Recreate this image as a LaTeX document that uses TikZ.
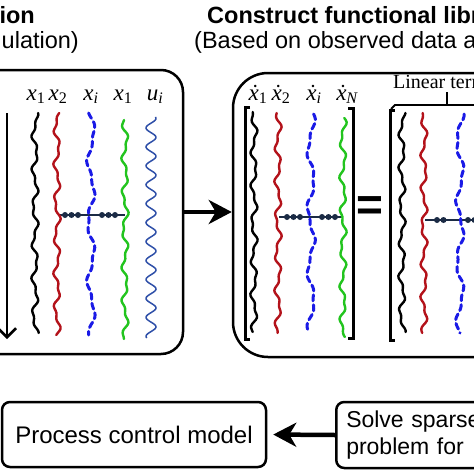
\documentclass[tikz,border=0pt]{standalone}
\usepackage{fontspec}
\setmainfont{Liberation Sans}
\newfontfamily\termfont{Liberation Serif}
\usetikzlibrary{arrows.meta}

\definecolor{wred}{HTML}{B3121A}
\definecolor{wgreen}{HTML}{22C41E}
\definecolor{wblue}{HTML}{1A1AE6}
\definecolor{wnavy}{HTML}{2E4FA8}
\definecolor{dotc}{HTML}{1B2B45}

% irregular signal traces, running downwards
\newcommand{\wiggle}[4]{plot[smooth,samples=110,domain=#2:#3,variable=\t]({#1+2.4*sin(10*\t+#4)+1.3*sin(23*\t+1.7*#4)},\t)}
\newcommand{\dwiggle}[4]{plot[smooth,samples=90,domain=#2:#3,variable=\t]({#1+3.2*sin(6*\t+#4)+1.2*sin(15*\t+#4)},\t)}
% signal name with subscript
\newcommand{\sig}[2]{{\itshape #1}\textsubscript{#2}}

\tikzset{
  panel/.style={draw,line width=2.5pt,inner sep=0pt},
  procbox/.style={draw,line width=2.5pt,rounded corners=8pt,font=\fontsize{24}{26}\selectfont},
  title/.style={inner sep=0pt,font=\fontsize{23.5}{26}\selectfont},
  lbl/.style={inner sep=0pt,anchor=base,font=\termfont\fontsize{23}{24}\selectfont},
  wave/.style={line width=2.4pt,line cap=round},
  dashwave/.style={wave,wblue,line width=3pt,dash pattern=on 6pt off 4pt},
  uwave/.style={wnavy,line width=1.5pt},
  dotrow/.style={dotc,line width=6pt,line cap=round,dash pattern=on 0pt off 6.5pt},
  brk/.style={line width=3pt},
  bigarrow/.style={line width=4.5pt,-{Stealth[length=23pt,width=24pt,inset=7pt]}}
}

\begin{document}
\begin{tikzpicture}[x=1pt,y=-1pt]
  \useasboundingbox (0,0) rectangle (474,474);
  \clip (0,0) rectangle (474,474);

  % headings
  \node[title,anchor=base east] (colA) at (35,23) {\bfseries ion};
  \node[title,anchor=base east] (colB) at (79,48) {ulation)};
  \node[title,anchor=base west] (libA) at (207,23) {\bfseries Construct functional library};
  \node[title,anchor=base west] (libB) at (194,48) {(Based on observed data and};

  % panels
  \node[panel,rounded corners=22pt,minimum width=210,minimum height=284] (collect) at (78,212) {};
  \node[panel,rounded corners=35pt,minimum width=300,minimum height=284] (library) at (383,215) {};
  \draw[bigarrow] (collect.east) -- (collect.east -| library.west);

  % time axis
  \coordinate (tstart) at (7,113);
  \coordinate (tend) at (7,339);
  \draw[line width=2.5pt,-{Straight Barb[length=9pt,width=18pt]}] (tstart) -- (tend);

  % measured signals
  \node[lbl] (sx1) at (36,100) {\sig{x}{1}};
  \node[lbl] (sx2) at (58,100) {\sig{x}{2}};
  \node[lbl] (sxi) at (91,100) {\sig{x}{\itshape i}};
  \node[lbl] (sxn) at (123,100) {\sig{x}{1}};
  \node[lbl] (sui) at (155,100) {\sig{u}{\itshape i}};
  \draw[dotc,line width=1.2pt] (58,215) -- (125,215);
  \draw[wave] \wiggle{35}{113}{333}{0};
  \draw[wave,wred] \wiggle{57}{113}{335}{60};
  \draw[dashwave] \dwiggle{91}{113}{335}{20};
  \draw[wave,wgreen] \wiggle{125}{120}{339}{130};
  \draw[uwave] plot[smooth,samples=200,domain=117:338,variable=\t]({151+5*sin(19*\t)},\t);
  \draw[dotrow] (65,215) -- (79,215);
  \draw[dotrow] (102,215) -- (116,215);

  % derivative matrix
  \node[lbl] (dx1) at (258,100) {\sig{\.{x}}{1}};
  \node[lbl] (dx2) at (281,100) {\sig{\.{x}}{2}};
  \node[lbl] (dxi) at (314,100) {\sig{\.{x}}{\itshape i}};
  \node[lbl] (dxn) at (347,100) {\sig{\.{x}}{\itshape N}};
  \draw[brk] (250,107) -- (245,107) -- (245,339) -- (250,339);
  \draw[brk] (348,108) -- (353,108) -- (353,338) -- (348,338);
  \draw[dotc,line width=1.2pt] (279,217) -- (343,217);
  \draw[wave] \wiggle{254}{112}{332}{200};
  \draw[wave,wred] \wiggle{278}{113}{333}{250};
  \draw[dashwave] \dwiggle{311}{114}{333}{90};
  \draw[wave,wgreen] \wiggle{343}{118}{337}{300};
  \draw[dotrow] (287,217) -- (300,217);
  \draw[dotrow] (322,217) -- (335,217);

  \node[anchor=base,inner sep=0pt,font=\fontsize{46}{46}\selectfont\bfseries] (eq) at (369.5,220) {=};

  % library matrix
  \node[inner sep=0pt,anchor=base west,font=\termfont\fontsize{20}{21}\selectfont] (lin) at (393,88) {Linear terms};
  \draw[line width=1.8pt] (391,109) -- (395,105) -- (490,105);
  \draw[line width=1.8pt] (447,105) -- (447,92);
  \draw[brk] (395,110) -- (390,110) -- (390,340) -- (395,340);
  \draw[dotc,line width=1.2pt] (425,220) -- (480,220);
  \draw[wave] \wiggle{402}{113}{332}{20};
  \draw[wave,wred] \wiggle{424}{113}{333}{170};
  \draw[dashwave] \dwiggle{460}{114}{333}{140};
  \draw[dotrow] (437,220) -- (450,220);
  \draw[dotrow] (468,220) -- (481,220);

  % bottom row
  \node[procbox,minimum width=264,minimum height=65] (model) at (134,434.5) {Process control model};
  \node[procbox,anchor=west,minimum height=66,text width=200,inner xsep=10pt,align=left,font=\fontsize{23}{27}\selectfont] (solve) at (335,435) {Solve sparse\\problem for};
  \draw[bigarrow,shorten >=6pt] (solve.west) -- (model.east);
\end{tikzpicture}
\end{document}
